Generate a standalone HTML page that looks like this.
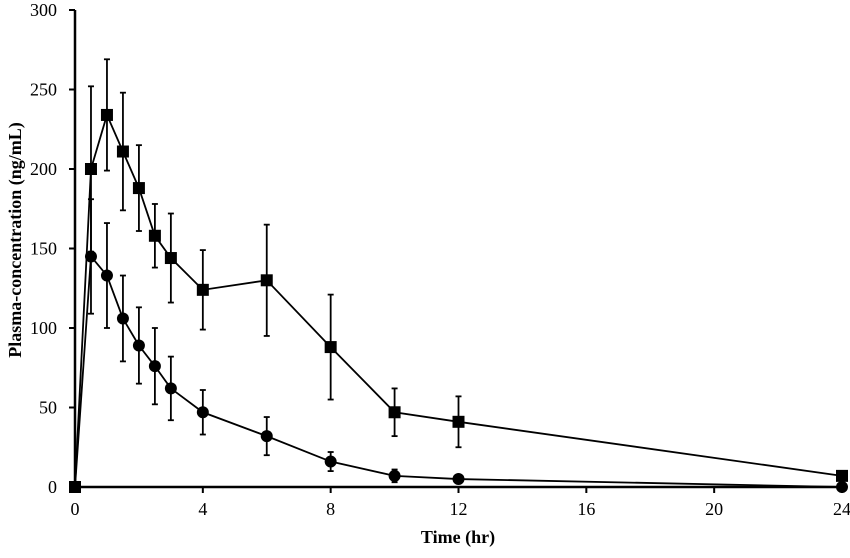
<!DOCTYPE html>
<html><head><meta charset="utf-8"><style>
html,body{margin:0;padding:0;background:#fff}
svg text{font-family:"Liberation Serif",serif;fill:#000}
</style></head><body>
<svg id="chart" width="850" height="553"></svg>
<script>
const xTicks=[0,4,8,12,16,20,24];
const yTicks=[0,50,100,150,200,250,300];
const times=[0,0.5,1,1.5,2,2.5,3,4,6,8,10,12,24];
const seriesA=[0,200,234,211,188,158,144,124,130,88,47,41,7];
const errA=[0,52,35,37,27,20,28,25,35,33,15,16,0];
const seriesB=[0,145,133,106,89,76,62,47,32,16,7,5,0];
const errB=[0,36,33,27,24,24,20,14,12,6,4,0,0];
const NS="http://www.w3.org/2000/svg";
const svg=document.getElementById('chart');
const X0=75,X1=842,Y0=487,Y1=10;
const xs=t=>X0+(t/24)*(X1-X0);
const ys=v=>Y0-(v/300)*(Y0-Y1);
function mk(tag,at,parent){const e=document.createElementNS(NS,tag);for(const k in at)e.setAttribute(k,at[k]);(parent||svg).appendChild(e);return e;}
let e;
e=mk('line',{x1:X0,y1:Y0,x2:X1,y2:Y0,stroke:'#000','stroke-width':2.5});


e=mk('line',{x1:X0,y1:Y0,x2:X0,y2:Y1,stroke:'#000','stroke-width':2.5});


xTicks.forEach(t=>{
  mk('line',{x1:xs(t),y1:Y0,x2:xs(t),y2:Y0+6,stroke:'#000','stroke-width':2});
  e=mk('text',{x:xs(t),y:Y0+28,'text-anchor':'middle','font-size':18});
  e.textContent=t;
  
  
});
yTicks.forEach(v=>{
  mk('line',{x1:X0-6,y1:ys(v),x2:X0,y2:ys(v),stroke:'#000','stroke-width':2});
  e=mk('text',{x:X0-18,y:ys(v)+6,'text-anchor':'end','font-size':18});
  e.textContent=v;
  
  
});
e=mk('text',{x:458,y:543,'text-anchor':'middle','font-size':18,'font-weight':'bold'});
e.textContent='Time (hr)';


e=mk('text',{x:0,y:0,'text-anchor':'middle','font-size':18,'font-weight':'bold',transform:'translate(21,240) rotate(-90)'});
e.textContent='Plasma-concentration (ng/mL)';


function drawSeries(vals,errs,shape,name){
  const g=mk('g',{});
  
  
  times.forEach((t,i)=>{if(errs[i]>0){
    const x=xs(t),a=ys(vals[i]+errs[i]),b=ys(vals[i]-errs[i]);
    mk('line',{x1:x,y1:a,x2:x,y2:b,stroke:'#000','stroke-width':1.8},g);
    mk('line',{x1:x-3,y1:a,x2:x+3,y2:a,stroke:'#000','stroke-width':1.8},g);
    mk('line',{x1:x-3,y1:b,x2:x+3,y2:b,stroke:'#000','stroke-width':1.8},g);
  }});
  mk('polyline',{points:times.map((t,i)=>xs(t)+','+ys(vals[i])).join(' '),fill:'none',stroke:'#000','stroke-width':1.8},g);
  times.forEach((t,i)=>{
    let m;
    if(shape==='square')m=mk('rect',{x:xs(t)-6,y:ys(vals[i])-6,width:12,height:12,fill:'#000'},g);
    else m=mk('circle',{cx:xs(t),cy:ys(vals[i]),r:6,fill:'#000'},g);
    
    
  });
}
drawSeries(seriesB,errB,'circle','series-circle');
drawSeries(seriesA,errA,'square','series-square');
</script>
</body></html>
